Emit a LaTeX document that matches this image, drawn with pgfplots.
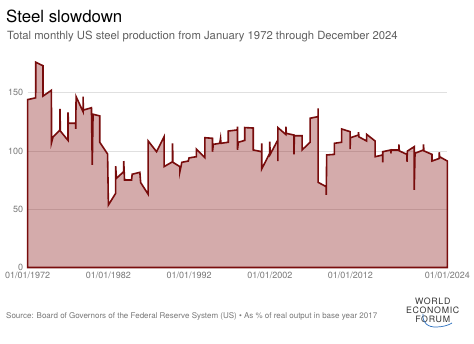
\documentclass[border=0pt]{standalone}
\usepackage{fontspec}
\setmainfont{TeX Gyre Heros}
\usepackage{pgfplots}
\pgfplotsset{compat=1.18}
\definecolor{steel}{RGB}{120,12,12}
\definecolor{fillbase}{RGB}{131,10,10}
\definecolor{gridc}{RGB}{224,224,224}
\definecolor{labc}{RGB}{120,120,120}
\definecolor{subc}{RGB}{95,95,95}
\definecolor{wefblue}{RGB}{40,110,190}
\begin{document}
\begin{tikzpicture}[x=1pt,y=1pt]
\useasboundingbox (0,0) rectangle (474,343);
\fill[white] (0,0) rectangle (474,343);
\node[anchor=west,inner sep=0pt] at (6,326.3) {\fontsize{16.8}{19}\selectfont Steel slowdown};
\node[anchor=west,inner sep=0pt,text=subc] at (7,306.5) {\fontsize{11.3}{13}\selectfont Total monthly US steel production from January 1972 through December 2024};
\begin{axis}[
  at={(27.7pt,75.5pt)}, anchor=south west, scale only axis,
  width=419.6pt, height=209.9pt,
  xmin=1972, xmax=2024, ymin=0, ymax=180,
  axis line style={draw=none}, major tick length=0pt,
  ytick={0,50,100,150}, ymajorgrids, grid style={gridc, line width=0.6pt},
  xtick={1972,1982,1992,2002,2012,2024},
  xticklabels={01/01/1972,01/01/1982,01/01/1992,01/01/2002,01/01/2012,01/01/2024},
  /pgf/number format/assume math mode=true,
  ticklabel style={font=\fontsize{9}{10}\selectfont, text=labc},
  yticklabel style={xshift=-1pt},
  xticklabel style={yshift=-1pt},
  clip=false,
]
\addplot[draw=steel, line width=1.6pt, fill=fillbase, fill opacity=0.34] coordinates {
(1972.0,113)(1972.0,144)(1972.99,145.5)(1973.0,176)(1973.9,173)(1973.9,147)(1974.94,152)(1974.95,107)(1975.14,112)(1976.0,118)(1976.0,136)(1976.05,117)(1977.0,109)(1977.0,133)(1977.05,123.7)(1977.95,123.7)(1977.95,118.8)(1978.0,146.5)(1978.86,133.6)(1978.86,146.5)(1978.9,135)(1979.9,137)(1980.0,88)(1980.1,131.4)(1980.93,130)(1980.93,107.4)(1981.9,97.3)(1982.0,53.6)(1982.9,63.6)(1982.9,87)(1983.0,76.5)(1983.9,82.2)(1983.9,91.3)(1984.0,75)(1984.87,75)(1984.95,80)(1985.9,81.6)(1986.0,72.8)(1986.93,62.8)(1986.93,108.5)(1987.97,99.3)(1988.9,112.2)(1988.9,86.5)(1989.95,90.7)(1989.95,106.5)(1990.0,90.2)(1990.86,86.5)(1990.86,82.2)(1991.1,90.2)(1991.9,91.3)(1992.0,94)(1992.9,95)(1992.9,101.6)(1993.96,94.2)(1993.96,111.3)(1994.9,110.8)(1994.9,99.3)(1995.0,105.6)(1995.8,106.5)(1995.9,110.8)(1995.95,106.5)(1996.85,107.4)(1996.85,117)(1998.0,118)(1998.0,120.7)(1998.0,101)(1998.1,107.4)(1998.9,109)(1998.9,120)(1999.95,119.6)(1999.95,100.8)(2001.0,99.3)(2001.0,106.5)(2001.0,84.5)(2002.0,98)(2002.0,108)(2002.05,97)(2003.0,109.4)(2003.0,91.3)(2003.0,120)(2004.0,114)(2004.0,120.7)(2004.05,115)(2005.0,113.6)(2005.0,97)(2005.05,113)(2006.0,113)(2006.0,100.8)(2007.0,107.4)(2007.0,128)(2008.0,129.4)(2008.0,136.5)(2008.0,73)(2009.0,69.3)(2009.0,62.2)(2009.05,96.5)(2010.0,97)(2010.0,106.5)(2010.9,107.4)(2010.9,118.8)(2011.95,116.5)(2011.95,101.6)(2012.0,111.3)(2013.0,113.6)(2013.0,116)(2013.05,112)(2014.0,108.5)(2014.0,114.2)(2015.05,108.5)(2015.05,95)(2016.0,96.5)(2016.0,90.2)(2016.0,99.3)(2017.0,100.8)(2017.0,97.8)(2017.05,100.8)(2018.0,100.8)(2018.0,105.6)(2018.05,100)(2019.0,97)(2019.0,90.7)(2019.05,99.8)(2019.9,103.6)(2019.9,66.5)(2020.0,98)(2021.05,100.8)(2021.05,105.6)(2021.1,100)(2022.1,97)(2022.1,91.3)(2023.0,93.5)(2023.0,98.8)(2023.05,95)(2024.0,91.3)
} \closedcycle;
\end{axis}
\node[anchor=west,inner sep=0pt,text=labc] at (6,26.5) {\fontsize{8}{9}\selectfont Source: Board of Governors of the Federal Reserve System (US) \textbullet\ As \% of real output in base year 2017};
\node[inner sep=0pt,text=black!80] at (432.7,41.3) {\fontsize{8.8}{9}\selectfont\addfontfeatures{LetterSpace=8}WORLD};
\node[inner sep=0pt,text=black!80] at (432.7,32.5) {\fontsize{8.8}{9}\selectfont\addfontfeatures{LetterSpace=8}ECONOMIC};
\node[inner sep=0pt,text=black!80] at (432.7,23.8) {\fontsize{8.8}{9}\selectfont\addfontfeatures{LetterSpace=8}FORUM};
\draw[wefblue, line width=0.7pt] (423,29) .. controls (422,20) and (428,15.5) .. (437,16) .. controls (443,16.3) and (448,17.5) .. (452,20);
\end{tikzpicture}
\end{document}
